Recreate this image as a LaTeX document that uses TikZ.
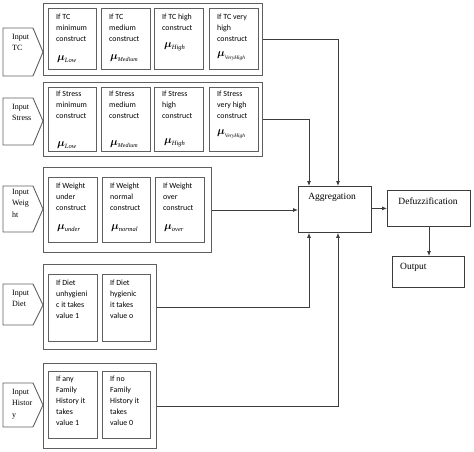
\documentclass[tikz,border=0pt]{standalone}
\usepackage{fontspec}
\setmainfont{Liberation Serif}
\newfontfamily\carlito{Carlito}
\usepackage{amsmath}
\usepackage{bm}
\usetikzlibrary{arrows.meta}
\definecolor{boxgray}{RGB}{95,95,95}
\definecolor{linegray}{RGB}{60,60,60}
\newcommand\musub[2][5]{$\bm{\mu}$\raisebox{-2.5pt}{\fontsize{#1}{#1}\selectfont\itshape #2}}
\begin{document}
\begin{tikzpicture}[x=1pt,y=-1pt,
  outerbox/.style={draw=boxgray, line width=1pt, anchor=north west, inner sep=0pt},
  innerbox/.style={draw=boxgray, line width=1pt, anchor=north west, inner sep=0pt},
  intext/.style={anchor=north west, inner sep=0pt, align=left, font=\carlito\fontsize{7.9}{11}\selectfont},
  munode/.style={anchor=west, inner sep=0pt, font=\fontsize{11}{12}\selectfont},
  penta/.style={draw=boxgray, line width=0.9pt, line join=miter},
  intitle/.style={anchor=north west, inner sep=0pt, align=left, font=\fontsize{8}{11.5}\selectfont},
  rbox/.style={draw=linegray, line width=0.8pt, anchor=north west, inner sep=0pt},
  rtext/.style={inner sep=0pt, font=\fontsize{9.5}{11}\selectfont},
  arr/.style={draw=linegray, line width=0.8pt, -{Latex[length=5pt,width=4pt]}},
  ln/.style={draw=linegray, line width=0.8pt}
]
\useasboundingbox (0,0) rectangle (474,451);

% ---------- outer boxes ----------
\node[outerbox, minimum width=219pt, minimum height=72pt] (tc) at (43,3) {};
\node[outerbox, minimum width=219pt, minimum height=74pt] (st) at (43,82) {};
\node[outerbox, minimum width=168pt, minimum height=85pt] (wt) at (43,167) {};
\node[outerbox, minimum width=113pt, minimum height=85pt] (dt) at (43,264) {};
\node[outerbox, minimum width=113pt, minimum height=85pt] (hs) at (43,363) {};

% ---------- input pentagons ----------
\draw[penta] (3,28) -- (33,28) -- (43,52) -- (33,76) -- (3,76) -- cycle;
\node[intitle] (intc) at (12,34) {Input\\TC};
\draw[penta] (3,98) -- (33,98) -- (43,121) -- (33,145) -- (3,145) -- cycle;
\node[intitle] (inst) at (12,104) {Input\\Stress};
\draw[penta] (3,186) -- (33,186) -- (43,209) -- (33,232) -- (3,232) -- cycle;
\node[intitle] (inwt) at (12,189) {Input\\Weig\\ht};
\draw[penta] (3,284) -- (33,284) -- (43,305) -- (33,325) -- (3,325) -- cycle;
\node[intitle] (indt) at (12,290) {Input\\Diet};
\draw[penta] (3,383) -- (33,383) -- (43,405) -- (33,427) -- (3,427) -- cycle;
\node[intitle] (inhs) at (12,389) {Input\\Histor\\y};

% ---------- TC inner ----------
\node[innerbox, minimum width=48pt, minimum height=61pt] (tc1) at (48,8) {};
\node[innerbox, minimum width=49pt, minimum height=61pt] (tc2) at (101,8) {};
\node[innerbox, minimum width=49pt, minimum height=61pt] (tc3) at (154,8) {};
\node[innerbox, minimum width=49pt, minimum height=61pt] (tc4) at (209,8) {};
\node[intext] (tc1t) at (56,14) {If TC\\minimum\\construct};
\node[intext] (tc2t) at (109,14) {If TC\\medium\\construct};
\node[intext] (tc3t) at (162,14) {If TC high\\construct};
\node[intext] (tc4t) at (217,14) {If TC very\\high\\construct};
\node[munode] (tc1m) at (57,59) {\musub[6.5]{Low}};
\node[munode] (tc2m) at (110,58) {\musub[6]{Medium}};
\node[munode] (tc3m) at (164,47) {\musub[6.5]{High}};
\node[munode] (tc4m) at (217,56) {\musub[5.3]{VeryHigh}};

% ---------- Stress inner ----------
\node[innerbox, minimum width=48pt, minimum height=64pt] (st1) at (48,87) {};
\node[innerbox, minimum width=49pt, minimum height=64pt] (st2) at (101,87) {};
\node[innerbox, minimum width=49pt, minimum height=64pt] (st3) at (154,87) {};
\node[innerbox, minimum width=49pt, minimum height=64pt] (st4) at (209,87) {};
\node[intext] (st1t) at (56,91) {If Stress\\minimum\\construct};
\node[intext] (st2t) at (109,91) {If Stress\\medium\\construct};
\node[intext] (st3t) at (162,91) {If Stress\\high\\construct};
\node[intext] (st4t) at (217,91) {If Stress\\very high\\construct};
\node[munode] (st1m) at (57,145) {\musub[6.5]{Low}};
\node[munode] (st2m) at (110,144) {\musub[6]{Medium}};
\node[munode] (st3m) at (164,143) {\musub[6.5]{High}};
\node[munode] (st4m) at (217,134) {\musub[5.3]{VeryHigh}};

% ---------- Weight inner ----------
\node[innerbox, minimum width=49pt, minimum height=65pt] (wt1) at (48,177) {};
\node[innerbox, minimum width=48pt, minimum height=65pt] (wt2) at (102,177) {};
\node[innerbox, minimum width=49pt, minimum height=65pt] (wt3) at (155,177) {};
\node[intext] (wt1t) at (56,183) {If Weight\\under\\construct};
\node[intext] (wt2t) at (110,183) {If Weight\\normal\\construct};
\node[intext] (wt3t) at (163,183) {If Weight\\over\\construct};
\node[munode] (wt1m) at (57,228) {\musub[6.5]{under}};
\node[munode] (wt2m) at (111,228) {\musub[6.5]{normal}};
\node[munode] (wt3m) at (164,228) {\musub[6.5]{over}};

% ---------- Diet inner ----------
\node[innerbox, minimum width=49pt, minimum height=67pt] (dt1) at (48,274) {};
\node[innerbox, minimum width=48pt, minimum height=67pt] (dt2) at (102,274) {};
\node[intext] (dt1t) at (56,280) {If Diet\\unhygieni\\c it takes\\value 1};
\node[intext] (dt2t) at (110,280) {If Diet\\hygienic\\it takes\\value o};

% ---------- History inner ----------
\node[innerbox, minimum width=49pt, minimum height=67pt] (hs1) at (48,371) {};
\node[innerbox, minimum width=48pt, minimum height=67pt] (hs2) at (102,371) {};
\node[intext] (hs1t) at (56,376) {If any\\Family\\History it\\takes\\value 1};
\node[intext] (hs2t) at (110,376) {If no\\Family\\History it\\takes\\value 0};

% ---------- right side ----------
\node[rbox, minimum width=73pt, minimum height=46pt] (agg) at (298,186) {};
\node[rtext] (aggt) at (332,197) {Aggregation};
\node[rbox, minimum width=83pt, minimum height=36pt] (def) at (387,190) {};
\node[rtext] (deft) at (428,201) {Defuzzification};
\node[rbox, minimum width=72pt, minimum height=31pt] (out) at (392,256) {};
\node[rtext, anchor=west] (outt) at (400,267) {Output};

% ---------- connectors ----------
\draw[arr] (tc.east) -| ([xshift=40pt]agg.north west);
\draw[arr] (st.east) -| ([xshift=11pt]agg.north west);
\draw[arr] (wt.east) -- (wt.east -| agg.west);
\draw[arr] (dt.east) -| ([xshift=11pt]agg.south west);
\draw[arr] (hs.east) -| ([xshift=40pt]agg.south west);
\draw[arr] (agg.east |- def.west) -- (def.west);
\draw[arr] ([xshift=42pt]def.south west) -- ([xshift=37pt]out.north west);
\end{tikzpicture}
\end{document}
